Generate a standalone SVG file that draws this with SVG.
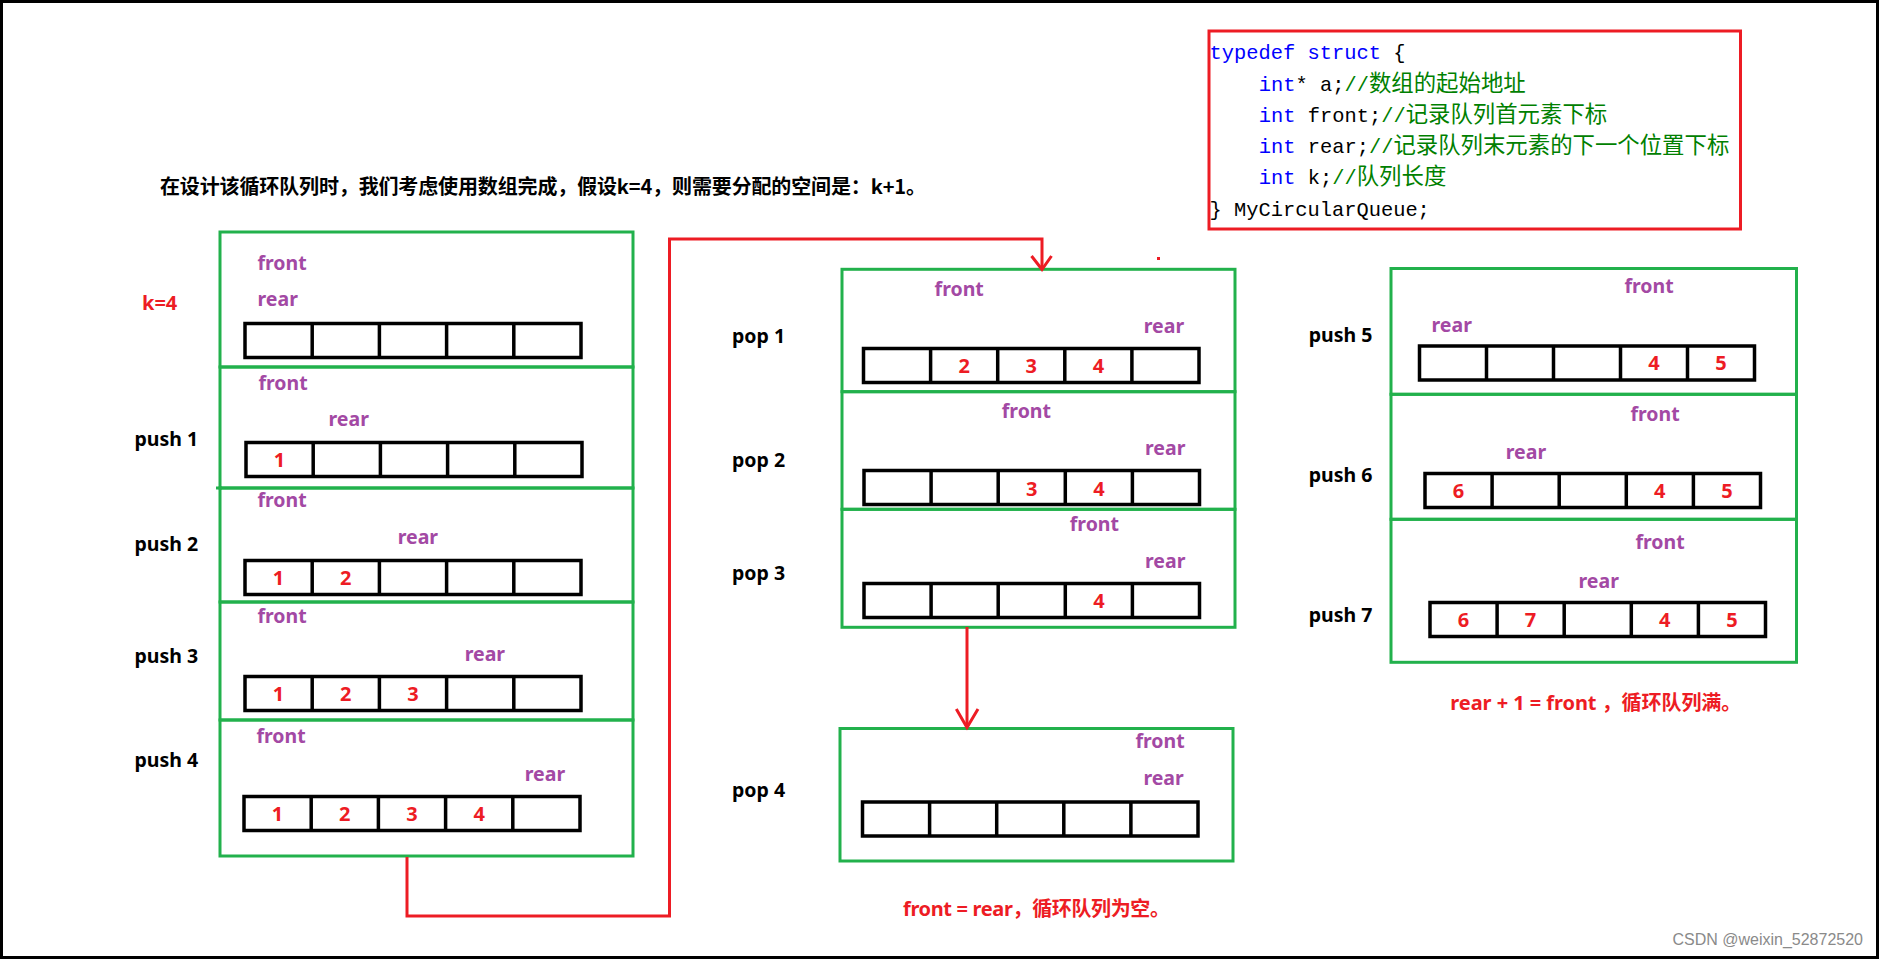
<svg xmlns="http://www.w3.org/2000/svg" width="1880" height="960" viewBox="0 0 1880 960">
<style>
.frame{fill:#fff;stroke:#000;stroke-width:3}
.g{fill:none;stroke:#22b14c;stroke-width:3}
.cell{fill:#fff;stroke:#000;stroke-width:3.5}
.dv{stroke:#000;stroke-width:3.5}
.lbl{font-family:"Noto Sans","Liberation Sans",sans-serif;font-weight:bold;font-size:19.5px;fill:#a349a4}
.op{font-family:"Noto Sans","Liberation Sans",sans-serif;font-weight:bold;font-size:19.5px;fill:#000}
.num{font-family:"Noto Sans","Liberation Sans",sans-serif;font-weight:bold;font-size:20px;fill:#ed1c24;text-anchor:middle}
.red{font-family:"Noto Sans","Noto Sans CJK SC",sans-serif;font-weight:bold;font-size:20px;fill:#ed1c24}
.title{font-family:"Noto Sans CJK SC","Noto Sans",sans-serif;font-weight:bold;font-size:20px;fill:#000}
.conn{fill:none;stroke:#ed1c24;stroke-width:3}
.code{font-family:"Liberation Mono","DejaVu Sans Mono",monospace;font-size:20.4px;fill:#000}
.kw{fill:#0000ff}
.cm{fill:#008000}
.cmz{font-family:"Noto Sans CJK SC",sans-serif;font-size:22.4px;fill:#008000}
.wm{font-family:"Liberation Sans",Arial,sans-serif;font-size:16px;fill:#8a8a8a;text-anchor:end}
</style>
<rect class="frame" x="1.5" y="1.5" width="1876" height="956"/>

<g id="title">
<text class="title" x="160" y="194" textLength="766">在设计该循环队列时，我们考虑使用数组完成，假设k=4，则需要分配的空间是：k+1。</text>
</g>

<g id="code-box">
<rect x="1209" y="31" width="531.5" height="198" fill="none" stroke="#ed1c24" stroke-width="3"/>
<text class="code" x="1209.6" y="59.3"><tspan class="kw">typedef</tspan> <tspan class="kw">struct</tspan> {</text>
<text class="code" x="1258.8" y="90.7"><tspan class="kw">int</tspan>* a;<tspan class="cm">//</tspan><tspan class="cmz">数组的起始地址</tspan></text>
<text class="code" x="1258.8" y="121.7"><tspan class="kw">int</tspan> front;<tspan class="cm">//</tspan><tspan class="cmz">记录队列首元素下标</tspan></text>
<text class="code" x="1258.8" y="153.3"><tspan class="kw">int</tspan> rear;<tspan class="cm">//</tspan><tspan class="cmz">记录队列末元素的下一个位置下标</tspan></text>
<text class="code" x="1258.8" y="184.3"><tspan class="kw">int</tspan> k;<tspan class="cm">//</tspan><tspan class="cmz">队列长度</tspan></text>
<text class="code" x="1209.6" y="216">} MyCircularQueue;</text>
</g>

<!-- Left column -->
<g id="init">
<rect class="g" x="220" y="232" width="413" height="135"/>
<text class="red" x="142" y="310">k=4</text>
<text class="lbl" x="257.5" y="270">front</text>
<text class="lbl" x="257.5" y="306">rear</text>
<rect class="cell" x="245" y="323.5" width="336" height="34"/>
<path class="dv" d="M312.2,323.5V357.5M379.4,323.5V357.5M446.6,323.5V357.5M513.8,323.5V357.5"/>
</g>

<g id="push1">
<rect class="g" x="220" y="367" width="413" height="121"/>
<text class="op" x="134.5" y="446">push 1</text>
<text class="lbl" x="258.5" y="389.5">front</text>
<text class="lbl" x="328.5" y="426">rear</text>
<rect class="cell" x="246" y="442.5" width="336" height="34"/>
<path class="dv" d="M313.2,442.5V476.5M380.4,442.5V476.5M447.6,442.5V476.5M514.8,442.5V476.5"/>
<text class="num" x="279.6" y="467">1</text>
</g>

<g id="push2">
<rect class="g" x="220" y="488" width="413" height="114"/>
<line x1="216" y1="488" x2="222" y2="488" stroke="#22b14c" stroke-width="3"/>
<text class="op" x="134.5" y="550.5">push 2</text>
<text class="lbl" x="257.5" y="506.7">front</text>
<text class="lbl" x="397.7" y="544">rear</text>
<rect class="cell" x="245" y="560.5" width="336" height="34"/>
<path class="dv" d="M312.2,560.5V594.5M379.4,560.5V594.5M446.6,560.5V594.5M513.8,560.5V594.5"/>
<text class="num" x="278.6" y="585">1</text>
<text class="num" x="345.8" y="585">2</text>
</g>

<g id="push3">
<rect class="g" x="220" y="602" width="413" height="118"/>
<text class="op" x="134.5" y="662.5">push 3</text>
<text class="lbl" x="257.5" y="622.7">front</text>
<text class="lbl" x="464.7" y="661">rear</text>
<rect class="cell" x="245" y="676.5" width="336" height="34"/>
<path class="dv" d="M312.2,676.5V710.5M379.4,676.5V710.5M446.6,676.5V710.5M513.8,676.5V710.5"/>
<text class="num" x="278.6" y="701">1</text>
<text class="num" x="345.8" y="701">2</text>
<text class="num" x="413" y="701">3</text>
</g>

<g id="push4">
<rect class="g" x="220" y="720" width="413" height="136"/>
<text class="op" x="134.5" y="767.3">push 4</text>
<text class="lbl" x="256.5" y="742.7">front</text>
<text class="lbl" x="524.8" y="781">rear</text>
<rect class="cell" x="244" y="796.5" width="336" height="34"/>
<path class="dv" d="M311.2,796.5V830.5M378.4,796.5V830.5M445.6,796.5V830.5M512.8,796.5V830.5"/>
<text class="num" x="277.6" y="821">1</text>
<text class="num" x="344.8" y="821">2</text>
<text class="num" x="412" y="821">3</text>
<text class="num" x="479.2" y="821">4</text>
</g>

<!-- Middle column -->
<g id="pop1">
<rect class="g" x="842" y="269.3" width="393" height="122.4"/>
<text class="op" x="732" y="343.3">pop 1</text>
<text class="lbl" x="934.6" y="296">front</text>
<text class="lbl" x="1143.8" y="333.3">rear</text>
<rect class="cell" x="863.5" y="348.5" width="335.5" height="34"/>
<path class="dv" d="M930.6,348.5V382.5M997.7,348.5V382.5M1064.8,348.5V382.5M1131.9,348.5V382.5"/>
<text class="num" x="964.2" y="373.3">2</text>
<text class="num" x="1031.3" y="373.3">3</text>
<text class="num" x="1098.4" y="373.3">4</text>
</g>

<g id="pop2">
<rect class="g" x="842" y="391.7" width="393" height="117.6"/>
<text class="op" x="732" y="466.7">pop 2</text>
<text class="lbl" x="1001.8" y="418.3">front</text>
<text class="lbl" x="1145" y="455">rear</text>
<rect class="cell" x="864" y="470.5" width="335.5" height="34"/>
<path class="dv" d="M931.1,470.5V504.5M998.2,470.5V504.5M1065.3,470.5V504.5M1132.4,470.5V504.5"/>
<text class="num" x="1031.8" y="495.5">3</text>
<text class="num" x="1098.9" y="495.5">4</text>
</g>

<g id="pop3">
<rect class="g" x="842" y="509.3" width="393" height="118"/>
<text class="op" x="732" y="580">pop 3</text>
<text class="lbl" x="1069.8" y="530.7">front</text>
<text class="lbl" x="1145" y="568.3">rear</text>
<rect class="cell" x="864" y="583.5" width="335.5" height="34"/>
<path class="dv" d="M931.1,583.5V617.5M998.2,583.5V617.5M1065.3,583.5V617.5M1132.4,583.5V617.5"/>
<text class="num" x="1098.9" y="608.3">4</text>
</g>

<g id="pop4">
<rect class="g" x="840" y="728.5" width="393" height="132.5"/>
<text class="op" x="732" y="796.7">pop 4</text>
<text class="lbl" x="1135.4" y="748.3">front</text>
<text class="lbl" x="1143.4" y="785">rear</text>
<rect class="cell" x="862.5" y="802" width="335.5" height="34"/>
<path class="dv" d="M929.6,802V836M996.7,802V836M1063.8,802V836M1130.9,802V836"/>
<text class="red" x="903" y="915.5" textLength="267">front = rear，循环队列为空。</text>
</g>

<!-- Right column -->
<g id="push5">
<rect class="g" x="1391" y="268.5" width="405.5" height="125.8"/>
<text class="op" x="1308.7" y="341.7">push 5</text>
<text class="lbl" x="1624.4" y="292.7">front</text>
<text class="lbl" x="1431.5" y="331.7">rear</text>
<rect class="cell" x="1419.5" y="346" width="335" height="34"/>
<path class="dv" d="M1486.5,346V380M1553.5,346V380M1620.5,346V380M1687.5,346V380"/>
<text class="num" x="1654" y="370.3">4</text>
<text class="num" x="1721" y="370.3">5</text>
</g>

<g id="push6">
<rect class="g" x="1391" y="394.3" width="405.5" height="125"/>
<text class="op" x="1308.7" y="481.7">push 6</text>
<text class="lbl" x="1630.5" y="420.7">front</text>
<text class="lbl" x="1505.8" y="459">rear</text>
<rect class="cell" x="1425" y="473.5" width="335.5" height="34"/>
<path class="dv" d="M1492.1,473.5V507.5M1559.2,473.5V507.5M1626.3,473.5V507.5M1693.4,473.5V507.5"/>
<text class="num" x="1458.5" y="498.3">6</text>
<text class="num" x="1659.8" y="498.3">4</text>
<text class="num" x="1726.9" y="498.3">5</text>
</g>

<g id="push7">
<rect class="g" x="1391" y="519.3" width="405.5" height="143"/>
<text class="op" x="1308.7" y="621.7">push 7</text>
<text class="lbl" x="1635.5" y="549.3">front</text>
<text class="lbl" x="1578.5" y="587.7">rear</text>
<rect class="cell" x="1430" y="602.5" width="335.5" height="34"/>
<path class="dv" d="M1497.1,602.5V636.5M1564.2,602.5V636.5M1631.3,602.5V636.5M1698.4,602.5V636.5"/>
<text class="num" x="1463.5" y="627">6</text>
<text class="num" x="1530.6" y="627">7</text>
<text class="num" x="1664.8" y="627">4</text>
<text class="num" x="1731.9" y="627">5</text>
<text class="red" x="1450.3" y="709.5" textLength="291">rear + 1 = front ，循环队列满。</text>
</g>

<g id="connectors">
<path class="conn" d="M407,857V916H669.5V239H1042V269"/>
<path class="conn" d="M1031.5,256L1042,269.5L1051.5,256"/>
<path class="conn" d="M967,627V727"/>
<path class="conn" d="M956.3,709L967,727.5L978,709"/>
</g>

<rect x="1157" y="257" width="3" height="3" fill="#ed1c24"/>
<text class="wm" x="1863" y="945">CSDN @weixin_52872520</text>
</svg>
